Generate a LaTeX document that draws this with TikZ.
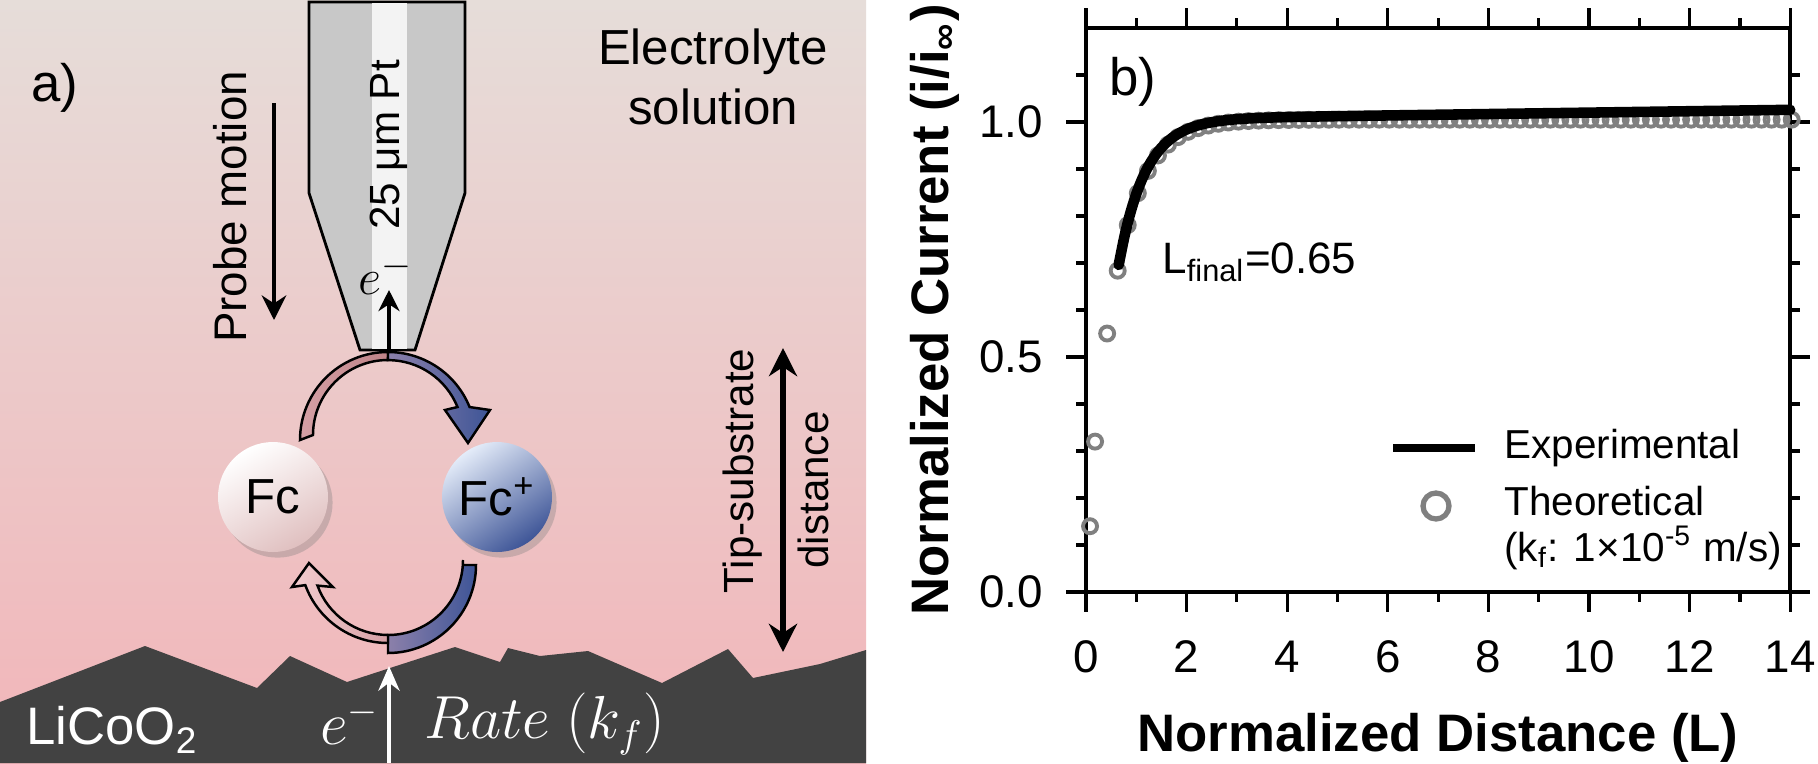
\documentclass[tikz,border=0pt]{standalone}
\usepackage{fontspec}
\setmainfont{Liberation Sans}
\usetikzlibrary{shadows,arrows.meta}
\definecolor{bgtop}{HTML}{E6DDD9}
\definecolor{bgbot}{HTML}{F2B5B9}
\definecolor{ground}{HTML}{424242}
\definecolor{probegray}{HTML}{C8C8C8}
\definecolor{strip}{HTML}{F3F3F3}
\definecolor{arcpink}{HTML}{BF8388}
\definecolor{arcpinkl}{HTML}{D5A0A5}
\definecolor{arcblue}{HTML}{3E5597}
\definecolor{arcbluel}{HTML}{8C80AA}
\definecolor{lpink}{HTML}{F4CDD0}
\definecolor{circgray}{HTML}{808080}
\definecolor{fcdark}{HTML}{E0C0C0}
\definecolor{fcplight}{HTML}{E4ECF9}
\tikzset{
  fs/.style={font=\fontsize{#1}{#1}\selectfont},
  ball/.style={circle,minimum size=110*0.01cm,inner sep=0pt,draw=none,
    drop shadow={shadow xshift=1.3pt,shadow yshift=-1.6pt,opacity=.35}},
  axisline/.style={line width=0.9pt},
  theo/.style={draw=circgray,line width=1.1pt},
}
\begin{document}
\begin{tikzpicture}[x=0.01cm,y=-0.01cm]
\useasboundingbox (0,0) rectangle (1818,763);
\fill[white] (0,0) rectangle (1818,763);
% ---------- panel a ----------
\shade[top color=bgtop,bottom color=bgbot] (0,0) rectangle (866,763);
\fill[ground] (0,702)--(145,646)--(257,688)--(290,656)--(347,682)--(390,668)--(455,647)--(500,662)--(508,648)--(540,656)--(588,651)--(662,683)--(728,649)--(753,678)--(820,664)--(866,650)--(866,763)--(0,763)--cycle;
% probe
\draw[fill=probegray,line width=0.8pt] (309,2)--(309,193)--(360,350)--(415,350)--(465,193)--(465,2)--cycle;
\fill[strip] (372,3) rectangle (407,349);
\node[fs=12,rotate=90] (pt) at (389,145) {25 μm Pt};
\node (em) at (386,274) {\fontsize{15}{15}\selectfont$e^-$};
\coordinate (tipb) at (389,352);
\coordinate (tipa) at (389,290);
\draw[-{Stealth[length=6pt,width=6pt]},line width=1pt] (tipb)--(tipa);
% probe motion
\node[fs=13,rotate=90] (pm) at (230,207) {Probe motion};
\coordinate (pm1) at (274,103);
\coordinate (pm2) at (274,320);
\draw[-{Stealth[length=7pt,width=7pt]},line width=1pt] (pm1)--(pm2);
% labels
\node[fs=15] (la) at (55,88) {a)};
\node[fs=14,align=center] (el) at (713,77) {Electrolyte\\[3pt]solution};
\node[fs=12,rotate=90] (ts) at (743,471) {Tip-substrate};
\node[fs=12,rotate=90] (ds) at (813,490) {distance};
\coordinate (d1) at (783,348);
\coordinate (d2) at (783,652);
\draw[{Stealth[length=8pt,width=8pt]}-{Stealth[length=8pt,width=8pt]},line width=1.5pt] (d1)--(d2);
\node[fs=15,white,anchor=west] (lc) at (14,730) {LiCoO\textsubscript{2}};
\coordinate (r1) at (389,763);
\coordinate (r2) at (389,666);
\draw[-{Stealth[length=7pt,width=6pt]},white,line width=1.2pt] (r1)--(r2);
\node[white] (re) at (350,722) {\fontsize{16}{16}\selectfont$e^-$};
\node[white,anchor=west] (rr) at (412,724) {\fontsize{16}{16}\selectfont$Rate\ (k_f)$};
% top arc
\shade[left color=arcpinkl,right color=arcpink,draw=black,line width=0.7pt]
  (300,440) arc[start angle=180,end angle=270,radius=88] -- (388,360) arc[start angle=270,end angle=180,radius=75] -- cycle;
\shade[left color=arcbluel,right color=arcblue,draw=black,line width=0.7pt]
  (388,352) arc[start angle=270,end angle=338,radius=88] -- (490,410) -- (468,443) -- (445,410) -- (457.5,407) arc[start angle=338,end angle=270,radius=75] -- cycle;
% bottom arc
\shade[left color=arcbluel,right color=arcblue,draw=black,line width=0.7pt]
  (476,565) arc[start angle=0,end angle=90,radius=88] -- (388,635) arc[start angle=90,end angle=0,radius=75] -- (463,565) -- cycle;
\shade[left color=lpink,right color=arcpinkl,draw=black,line width=0.7pt]
  (388,643) arc[start angle=90,end angle=160,radius=88] -- (292,587) -- (309,563) -- (333,587) -- (317.5,585.6) arc[start angle=160,end angle=90,radius=75] -- cycle;
% balls
\node[ball,top color=white,bottom color=fcdark,shading angle=30] (fc) at (273,497) {\fontsize{14}{14}\selectfont Fc};
\node[ball,top color=fcplight,bottom color=arcblue,shading angle=35] (fcp) at (497,497) {\fontsize{14}{14}\selectfont Fc\textsuperscript{+}};
% ---------- panel b ----------
\draw[axisline] (1086,28) rectangle (1790,592);
\foreach \L in {0,2,...,14} {
  \draw[axisline] ({1086+50.3*\L},592)--({1086+50.3*\L},612);
  \draw[axisline] ({1086+50.3*\L},28)--({1086+50.3*\L},8);
  \node[fs=13] at ({1086+50.3*\L},657) {\L};
}
\foreach \L in {1,3,...,13} {
  \draw[axisline] ({1086+50.3*\L},592)--({1086+50.3*\L},602);
  \draw[axisline] ({1086+50.3*\L},28)--({1086+50.3*\L},18);
}
\foreach \v in {0,0.5,1.0} {
  \draw[axisline] (1066,{592-470*\v})--(1086,{592-470*\v});
  \draw[axisline] (1790,{592-470*\v})--(1810,{592-470*\v});
}
\foreach \v in {0.1,0.2,0.3,0.4,0.6,0.7,0.8,0.9,1.1} {
  \draw[axisline] (1076,{592-470*\v})--(1086,{592-470*\v});
  \draw[axisline] (1790,{592-470*\v})--(1800,{592-470*\v});
}
\node[fs=13,anchor=east] (y0) at (1055,592) {0.0};
\node[fs=13,anchor=east] (y5) at (1055,357) {0.5};
\node[fs=13,anchor=east] (y10) at (1055,122) {1.0};
\node[rotate=90] (yt) at (935,310) {\fontsize{15}{15}\selectfont\bfseries Normalized Current (i/i\textsubscript{∞})};
\node (xt) at (1438,738) {\fontsize{15}{15}\selectfont\bfseries Normalized Distance (L)};
\node[fs=15] (lb) at (1133,82) {b)};
\node[fs=12.5,anchor=west] (lf) at (1150,262) {L\textsubscript{final}=0.65};
\foreach \L/\v in {0.08/0.14,0.18/0.32,0.42/0.55} {
  \draw[theo] ({1086+50.3*\L},{592-470*\v}) circle (7);
}
\foreach \L in {0.63,0.83,...,14.1} {
  \draw[theo] ({1086+50.3*\L},{592-470*(1.005-0.31*exp(-1.8*(\L-0.65)))}) circle (7);
}
\draw[line width=3pt,line cap=round] plot[domain=0.65:14,samples=120,smooth] ({1086+50.3*\x},{592-470*(1.005+0.0015*\x-0.31*exp(-1.9*(\x-0.65)))});
\coordinate (lg1) at (1393,448);
\coordinate (lg2) at (1475,448);
\draw[line width=2.4pt] (lg1)--(lg2);
\draw[draw=circgray,line width=1.5pt] (1436,506) circle (13);
\node[fs=11.5,anchor=west] (le) at (1492,448) {Experimental};
\node[fs=11.5,anchor=west] (lt) at (1492,501) {Theoretical};
\node[fs=11.5,anchor=west] (lk) at (1492,548) {(k\textsubscript{f}: 1×10\textsuperscript{-5} m/s)};
\end{tikzpicture}
\end{document}
